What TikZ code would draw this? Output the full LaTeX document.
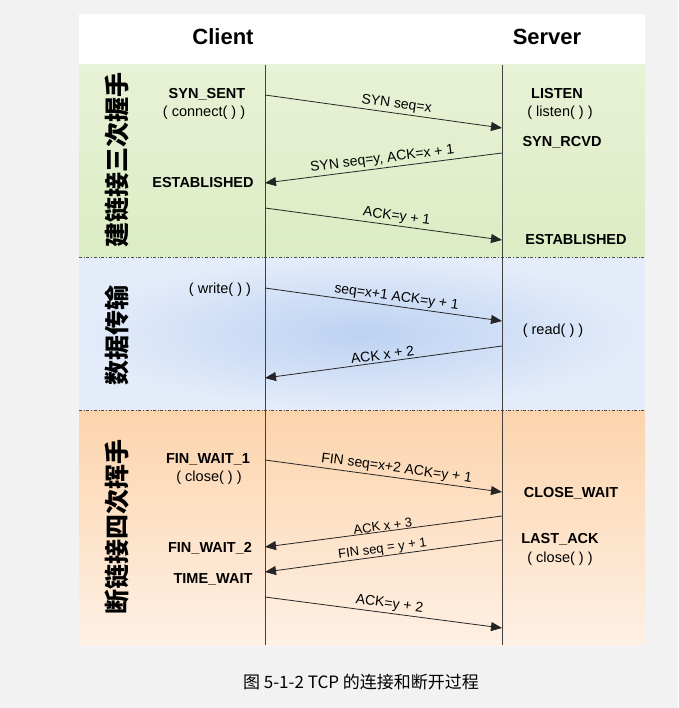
\documentclass[tikz,border=0pt]{standalone}
\usepackage{fontspec}
\setmainfont{Liberation Sans}
\newfontfamily\cjk{Noto Sans CJK SC}
\usetikzlibrary{arrows.meta}
\begin{document}
\begin{tikzpicture}[x=1pt,y=-1pt,
  st/.style={font=\bfseries\fontsize{14.5}{15}\selectfont,align=center},
  fn/.style={font=\fontsize{14.5}{15}\selectfont},
  msg/.style={draw=black!85,line width=0.8pt,-{Triangle[length=11pt,width=9pt]}},
  lab/.style={font=\fontsize{14}{15}\selectfont,sloped,above,inner sep=2pt},
  phase/.style={font=\cjk\bfseries\fontsize{25}{26}\selectfont,rotate=90},
  sep/.style={draw=black!70,dash dot,line width=0.6pt}]
\useasboundingbox (0,0) rectangle (678,708);
\fill[black!5] (0,0) rectangle (678,708);
\fill[white] (79,14) rectangle (645,65);
\shade[top color={rgb,255:red,232;green,242;blue,214},bottom color={rgb,255:red,220;green,236;blue,196}] (79,65) rectangle (645,257);
\shade[inner color={rgb,255:red,188;green,210;blue,242},outer color={rgb,255:red,228;green,236;blue,250}] (79,257) rectangle (645,410);
\shade[top color={rgb,255:red,252;green,212;blue,172},bottom color={rgb,255:red,254;green,240;blue,228}] (79,410) rectangle (645,645);
\draw[sep] (79,257) -- (645,257);
\draw[sep] (79,410) -- (645,410);
\node[font=\bfseries\fontsize{22}{24}\selectfont] (cl) at (223,37) {Client};
\node[font=\bfseries\fontsize{22}{24}\selectfont] (sv) at (547,37) {Server};
\coordinate (ct) at (265,65); \coordinate (cb) at (265,645);
\coordinate (stp) at (502,65); \coordinate (sb) at (502,645);
\draw[black!75,line width=0.9pt] (ct) -- (cb);
\draw[black!75,line width=0.9pt] (stp) -- (sb);
\node[phase] (p1) at (117,160) {建链接三次握手};
\node[phase] (p2) at (117,335) {数据传输};
\node[phase] (p3) at (117,527) {断链接四次挥手};
% states
\node[st] (s1) at (207,94) {SYN\_SENT};
\node[fn] (s1b) at (204,113) {( connect( ) )};
\node[st] (s2) at (203,183) {ESTABLISHED};
\node[fn] (s3) at (220,290) {( write( ) )};
\node[st] (s4) at (208,459) {FIN\_WAIT\_1};
\node[fn] (s4b) at (209,478) {( close( ) )};
\node[st] (s5) at (210,548) {FIN\_WAIT\_2};
\node[st] (s6) at (213,579) {TIME\_WAIT};
\node[st] (r1) at (557,94) {LISTEN};
\node[fn] (r1b) at (560,113) {( listen( ) )};
\node[st] (r2) at (562,142) {SYN\_RCVD};
\node[st] (r3) at (576,240) {ESTABLISHED};
\node[fn] (r4) at (553,331) {( read( ) )};
\node[st] (r5) at (571,493) {CLOSE\_WAIT};
\node[st] (r6) at (560,539) {LAST\_ACK};
\node[fn] (r6b) at (560,559) {( close( ) )};
% messages
\coordinate (a1) at (265,95); \coordinate (b1) at (502,128);
\coordinate (a2) at (502,153); \coordinate (b2) at (265,183);
\coordinate (a3) at (265,208); \coordinate (b3) at (502,240);
\coordinate (a4) at (265,288); \coordinate (b4) at (502,321);
\coordinate (a5) at (502,346); \coordinate (b5) at (265,378);
\coordinate (a6) at (265,460); \coordinate (b6) at (502,492);
\coordinate (a7) at (502,516); \coordinate (b7) at (265,547);
\coordinate (a8) at (502,540); \coordinate (b8) at (265,572);
\coordinate (a9) at (265,597); \coordinate (b9) at (502,628);
\draw[msg] (a1) -- node[lab,pos=0.55] {SYN seq=x} (b1);
\draw[msg] (a2) -- node[lab,pos=0.5] {SYN seq=y, ACK=x + 1} (b2);
\draw[msg] (a3) -- node[lab,pos=0.55] {ACK=y + 1} (b3);
\draw[msg] (a4) -- node[lab,pos=0.55] {seq=x+1 ACK=y + 1} (b4);
\draw[msg] (a5) -- node[lab,pos=0.5] {ACK x + 2} (b5);
\draw[msg] (a6) -- node[lab,pos=0.55] {FIN seq=x+2 ACK=y + 1} (b6);
\draw[msg] (a7) -- node[lab,pos=0.5,inner sep=0.5pt,font=\fontsize{13}{14}\selectfont] {ACK x + 3} (b7);
\draw[msg] (a8) -- node[lab,pos=0.5,inner sep=0.5pt,font=\fontsize{13}{14}\selectfont] {FIN seq = y + 1} (b8);
\draw[msg] (a9) -- node[lab,pos=0.52] {ACK=y + 2} (b9);
\node[font=\cjk\fontsize{17}{18}\selectfont] (cap) at (361,682) {图 5-1-2 TCP 的连接和断开过程};
\end{tikzpicture}
\end{document}
